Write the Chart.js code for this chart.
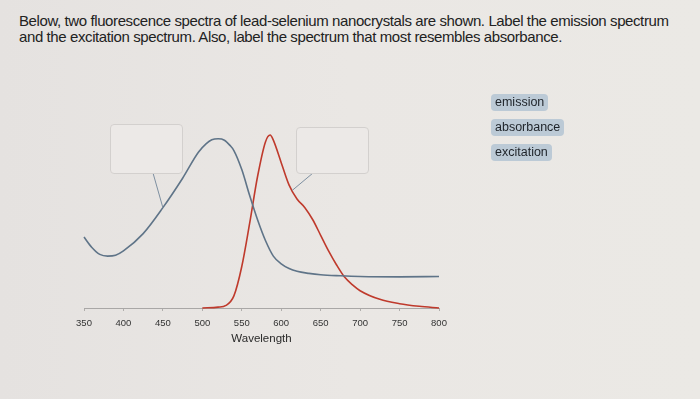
<!DOCTYPE html>
<html>
<head>
<meta charset="utf-8">
<script src="https://cdn.jsdelivr.net/npm/chart.js@4"></script>
<style>
  html, body { margin: 0; padding: 0; }
  body {
    width: 700px; height: 399px; overflow: hidden; position: relative;
    background: linear-gradient(90deg, #e5e2e0 0%, #eae7e4 50%, #ebe9e5 100%);
    font-family: "Liberation Sans", Arial, sans-serif; color: #222;
  }
  #question {
    position: absolute; left: 19px; top: 13px; width: 662px;
    font-size: 15px; line-height: 16px; letter-spacing: -0.4px;
  }
  #wrap { position: absolute; left: 0; top: 0; width: 700px; height: 399px; }
  .drop {
    position: absolute; border: 1px solid #d3d0ce; border-radius: 4px;
    background: #ece9e7;
  }
  .pill {
    position: absolute; background: #bccad6; border-radius: 4px; height: 17px;
    font-size: 12.5px; line-height: 17px; padding: 0 4px; color: #1e2329;
  }
</style>
</head>
<body>
<div id="question">Below, two fluorescence spectra of lead-selenium nanocrystals are shown. Label the emission spectrum and the excitation spectrum. Also, label the spectrum that most resembles absorbance.</div>
<div id="wrap"><canvas id="chart" width="700" height="399"></canvas></div>
<div class="drop" style="left:110px;top:124px;width:71px;height:48px;"></div>
<div class="drop" style="left:296px;top:127px;width:71px;height:45px;"></div>
<div class="pill" style="left:491px;top:94px;">emission</div>
<div class="pill" style="left:491px;top:119px;">absorbance</div>
<div class="pill" style="left:491px;top:144px;">excitation</div>
<script>
// wavelength ticks
const tickLabels = [350, 400, 450, 500, 550, 600, 650, 700, 750, 800];

// excitation spectrum (blue)
const blueNm  = [350, 360, 370, 380, 390, 400, 425, 450, 475, 495, 505, 512, 520, 528, 535, 540, 550, 560, 570, 580, 590, 600, 610, 620, 635, 650, 675, 700, 750, 800];
const blueVal = [0.41, 0.35, 0.31, 0.30, 0.305, 0.33, 0.43, 0.58, 0.75, 0.9, 0.95, 0.972, 0.978, 0.97, 0.94, 0.91, 0.8, 0.65, 0.51, 0.39, 0.3, 0.255, 0.228, 0.212, 0.2, 0.192, 0.186, 0.182, 0.18, 0.182];

// emission spectrum (red)
const redNm  = [500, 520, 530, 540, 550, 560, 570, 580, 586, 590, 600, 610, 620, 630, 640, 650, 660, 670, 680, 690, 700, 725, 750, 775, 800];
const redVal = [0.0, 0.005, 0.015, 0.07, 0.24, 0.49, 0.76, 0.96, 1.0, 0.97, 0.84, 0.71, 0.63, 0.58, 0.51, 0.42, 0.33, 0.25, 0.18, 0.135, 0.1, 0.05, 0.025, 0.01, 0.0];

const toXY = (xs, ys) => xs.map((x, i) => ({x: x, y: ys[i]}));

// pointer lines from the empty label boxes to the curves
const pointers = {
  id: 'pointers',
  afterDatasetsDraw(chart) {
    const {ctx, scales: {x, y}} = chart;
    ctx.save();
    ctx.strokeStyle = '#7d8fa0';
    ctx.lineWidth = 1;
    ctx.beginPath();
    ctx.moveTo(153, 173);
    ctx.lineTo(x.getPixelForValue(450), y.getPixelForValue(0.58));
    ctx.moveTo(313, 173);
    ctx.lineTo(x.getPixelForValue(614), y.getPixelForValue(0.68));
    ctx.stroke();
    ctx.restore();
  }
};

new Chart(document.getElementById('chart'), {
  type: 'line',
  data: {
    datasets: [
      {
        label: 'excitation',
        data: toXY(blueNm, blueVal),
        borderColor: '#5f7488',
        borderWidth: 1.6,
        pointRadius: 0,
        cubicInterpolationMode: 'monotone',
        clip: false
      },
      {
        label: 'emission',
        data: toXY(redNm, redVal),
        borderColor: '#bf3a2c',
        borderWidth: 1.6,
        pointRadius: 0,
        cubicInterpolationMode: 'monotone',
        clip: false
      }
    ]
  },
  options: {
    responsive: false,
    animation: false,
    layout: { padding: { left: 84, right: 261, top: 135, bottom: 49 } },
    plugins: { legend: { display: false }, tooltip: { enabled: false } },
    scales: {
      x: {
        type: 'linear',
        min: 350,
        max: 800,
        afterBuildTicks: (scale) => { scale.ticks = tickLabels.map(v => ({value: v})); },
        afterFit: (scale) => { scale.height = 42; },
        border: { display: true, color: '#a9a7a6', width: 1 },
        grid: { drawOnChartArea: false, drawTicks: true, tickLength: 3, color: '#b0aeac' },
        ticks: {
          autoSkip: false,
          maxRotation: 0,
          padding: 7,
          color: '#333333',
          font: { family: 'Liberation Sans', size: 9.5 }
        },
        title: {
          display: true,
          text: 'Wavelength',
          color: '#2a2a2a',
          font: { family: 'Liberation Sans', size: 11.5 },
          padding: { top: 2, bottom: 4 }
        }
      },
      y: {
        display: false,
        min: 0,
        max: 1
      }
    }
  },
  plugins: [pointers]
});
</script>
</body>
</html>
